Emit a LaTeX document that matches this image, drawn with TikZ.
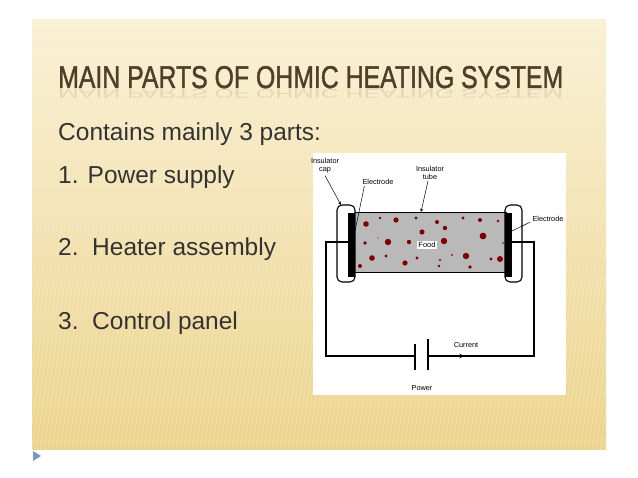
\documentclass[tikz,border=0pt]{standalone}
\usepackage{fontspec}
\setmainfont{Liberation Sans}
\definecolor{bgtop}{RGB}{250,240,212}
\definecolor{bgbot}{RGB}{236,212,140}
\definecolor{tri}{RGB}{120,150,200}
\definecolor{ttl}{RGB}{78,62,42}
\begin{document}
\begin{tikzpicture}[x=1pt,y=-1pt,
  lbl/.style={font=\fontsize{7.3}{8}\selectfont, inner sep=0pt, align=center},
  wire/.style={line width=1.3pt, black},
  body/.style={anchor=base west, font=\fontsize{24.5}{26}\selectfont, text=black!80, inner sep=0pt},
  dot/.style={fill=red!50!black}]
\useasboundingbox (0,0) rectangle (638,478);
\fill[white] (0,0) rectangle (638,478);
\shade[top color=bgtop, bottom color=bgbot] (32,20) rectangle (606,450);
\begin{scope}
\clip (32,45) rectangle (606,450);
\foreach \i in {0,4,...,700}{
  \draw[white, opacity=0.25, line width=0.8pt] (\i-60,450) -- (\i,45);
}
\end{scope}
\fill[tri] (33,451) -- (41,456) -- (33,461) -- cycle;
% title
\node[anchor=base west, inner sep=0pt, text=ttl, opacity=0.12, yscale=-0.4] (refl) at (58,90)
  {\resizebox{505pt}{22pt}{MAIN PARTS OF OHMIC HEATING SYSTEM}};
\node[anchor=base west, inner sep=0pt, text=ttl] (title) at (58,88)
  {\resizebox{505pt}{22pt}{\addfontfeatures{FakeBold=1.5}MAIN PARTS OF OHMIC HEATING SYSTEM}};
\node[body] (t0) at (58,141) {Contains mainly 3 parts:};
\node[body] (t1) at (58,184) {1. Power supply};
\node[body] (t2) at (58,256) {2.\ \ Heater assembly};
\node[body] (t3) at (58,330) {3.\ \ Control panel};
% diagram panel
\fill[white] (313,153) rectangle (566,395);
% circuit
\draw[wire] (349,242) -- (326,242) -- (326,356) -- (415,356);
\draw[wire] (428,356) -- (534,356) -- (534,242) -- (512,242);
\draw[wire] (415,344) -- (415,370);
\draw[wire] (428,339) -- (428,370);
\draw[line width=1pt,->,>=stealth] (455,356) -- (464,356);
% tube
\fill[gray!55] (355,213) rectangle (507,273);
\draw[line width=1pt] (355,213) -- (507,213) (355,273) -- (507,273);
\foreach \x/\y/\r in {366/224/2.8,380/218/1.4,396/220/2.6,416/218/1.6,437/222/2.0,463/218/1.6,480/220/2.0,498/221/1.4,
 365/243/1.8,388/242/3.2,378/238/0.6,409/242/2.2,422/232/2.6,445/228/2.2,444/241/3.2,483/236/3.4,
 372/258/2.8,386/256/1.6,405/263/2.6,417/258/1.6,440/260/1.2,452/255/1.0,466/256/3.2,491/259/1.6,
 500/259/3.0,360/266/2.0,439/266/1.4,470/267/1.8,503/243/0.8}
  \fill[dot] (\x,\y) circle (\r);
\node[fill=white, inner sep=1pt, font=\fontsize{7.5}{8}\selectfont] (food) at (427,245) {Food};
% caps
\draw[line width=1.1pt, rounded corners=5pt] (337,205) rectangle (355,282);
\draw[line width=1.1pt, rounded corners=5pt] (505,205) rectangle (522,282);
\fill[black] (348,213) rectangle (355,277);
\fill[black] (505,213) rectangle (512,277);
% labels
\node[lbl] (lcap) at (325,166) {Insulator\\cap};
\node[lbl] (lel) at (378,182) {Electrode};
\node[lbl] (ltube) at (430,173) {Insulator\\tube};
\node[lbl] (rel) at (548,219) {Electrode};
\node[lbl] (lcur) at (466,345) {Current};
\node[lbl] (lpow) at (422,388) {Power};
\draw[->,>=stealth,line width=0.5pt] (lcap.south) ++(0,2) -- (341,205);
\draw[line width=0.5pt] (lel.south west) ++(2,1) -- (354,236);
\draw[->,>=stealth,line width=0.5pt] (ltube.south) ++(-2,1) -- (421,212);
\draw[line width=0.5pt] (rel.west) ++(-2,3) -- (512,231);
\end{tikzpicture}
\end{document}
